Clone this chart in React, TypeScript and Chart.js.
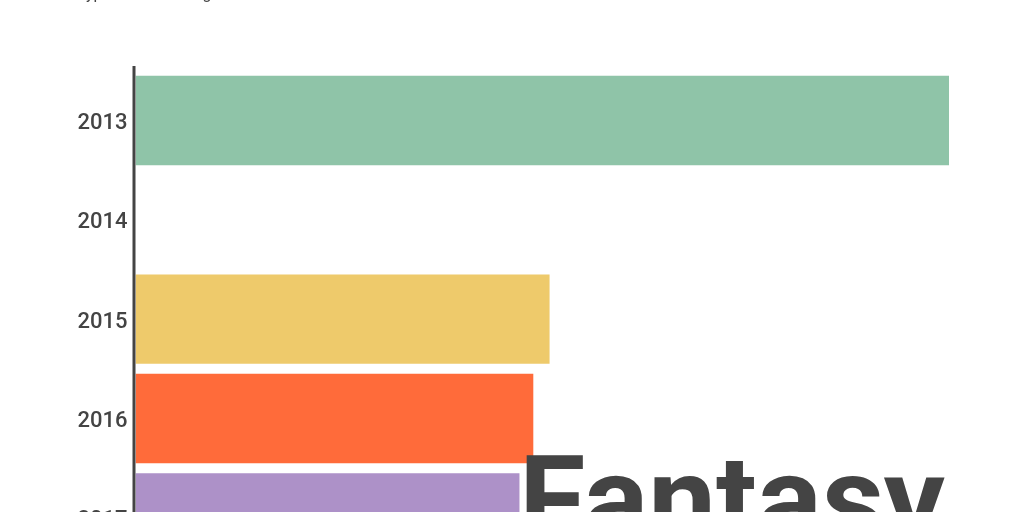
import React, { useEffect, useRef } from 'react';
import { Chart, registerables } from 'chart.js';

Chart.register(...registerables);

// frame data (one step of the race)
const years = ['2013', '2014', '2015', '2016', '2017'];
const values: (number | null)[] = [100, null, 50.9, 48.9, 47.2];
const barColors = ['#8fc4a8', '#6fa8dc', '#eeca6b', '#ff6b3a', '#ad91c8'];
const subtitle = 'Typical book ratings';
const genreLabel = 'Fantasy';

const textColor = '#444444';

// axis line, big genre label and the clipped subtitle
const labelPlugin = {
  id: 'raceLabels',
  afterDatasetsDraw(chart: Chart) {
    const ctx = chart.ctx;
    const area = chart.chartArea;
    ctx.save();
    ctx.strokeStyle = textColor;
    ctx.lineWidth = 3;
    ctx.beginPath();
    ctx.moveTo(area.left - 1.5, 66);
    ctx.lineTo(area.left - 1.5, area.bottom);
    ctx.stroke();
    ctx.restore();
  },
  afterDraw(chart: Chart) {
    const ctx = chart.ctx;
    ctx.save();
    ctx.fillStyle = textColor;
    ctx.textBaseline = 'alphabetic';
    ctx.textAlign = 'left';
    ctx.font = '16px Roboto';
    ctx.fillText(subtitle, 77, -1);
    ctx.font = 'bold 121px Roboto';
    ctx.fillText(genreLabel, 519, 541);
    ctx.restore();
  },
};

const App: React.FC = () => {
  const canvasRef = useRef<HTMLCanvasElement>(null);
  const chartInstance = useRef<Chart | null>(null);

  useEffect(() => {
    if (chartInstance.current) {
      chartInstance.current.destroy();
    }
    const ctx = canvasRef.current?.getContext('2d');
    if (!ctx) return;

    chartInstance.current = new Chart(ctx, {
      type: 'bar',
      data: {
        labels: years,
        datasets: [
          {
            label: genreLabel,
            data: values,
            backgroundColor: barColors,
            borderWidth: 0,
            barPercentage: 0.9,
            categoryPercentage: 1,
          },
        ],
      },
      options: {
        indexAxis: 'y',
        responsive: true,
        maintainAspectRatio: false,
        animation: false,
        layout: { padding: { top: 70.8, bottom: 32.5, left: 0, right: 75 } },
        plugins: {
          legend: { display: false },
          tooltip: { enabled: false },
        },
        scales: {
          x: {
            display: false,
            min: 0,
            max: 100,
          },
          y: {
            afterFit: (scale: any) => {
              scale.width = 135.5;
            },
            grid: { display: false, drawTicks: false },
            border: { display: false },
            ticks: {
              color: textColor,
              padding: 8,
              labelOffset: 3,
              font: { family: 'Roboto', size: 22, weight: 500 },
            },
          },
        },
      },
      plugins: [labelPlugin],
    });

    return () => {
      if (chartInstance.current) {
        chartInstance.current.destroy();
        chartInstance.current = null;
      }
    };
  }, []);

  return (
    <div
      style={{
        position: 'fixed',
        left: 0,
        top: 0,
        width: 1024,
        height: 512,
        overflow: 'hidden',
        background: '#ffffff',
      }}
    >
      <div style={{ position: 'relative', width: 1024, height: 600 }}>
        <canvas ref={canvasRef}></canvas>
      </div>
    </div>
  );
};

export default App;
